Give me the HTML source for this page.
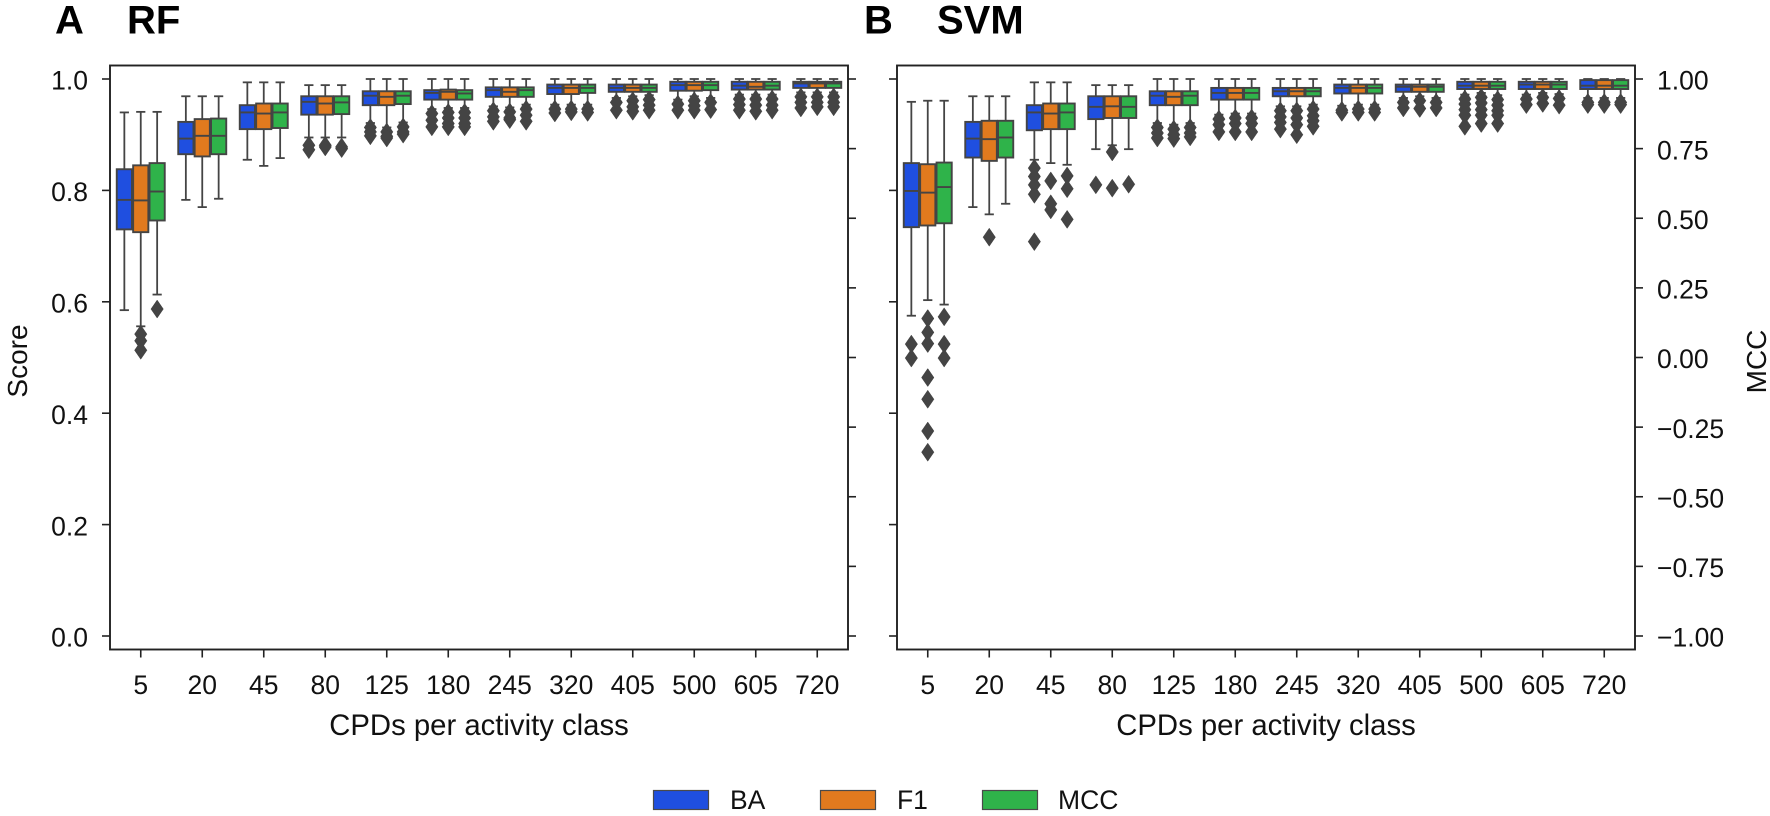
<!DOCTYPE html>
<html lang="en">
<head>
<meta charset="utf-8">
<title>RF and SVM score distributions</title>
<style>
html,body{margin:0;padding:0;background:#fff;width:1770px;height:816px;overflow:hidden}
svg{display:block}
text{font-family:"Liberation Sans",Arial,sans-serif;fill:#111}
text.panel-heading{fill:#000}
</style>
</head>
<body>
<svg id="chart" width="1770" height="816" viewBox="0 0 1770 816" xmlns="http://www.w3.org/2000/svg">
  <rect width="1770" height="816" fill="#fff"/>
  <text class="panel-heading" x="55" y="33.5" font-size="40" font-weight="700">A</text>
  <text class="panel-heading" x="127" y="33.5" font-size="40" font-weight="700">RF</text>
  <text class="panel-heading" x="864" y="33.5" font-size="40" font-weight="700">B</text>
  <text class="panel-heading" x="937" y="33.5" font-size="40" font-weight="700">SVM</text>
  <text transform="translate(27,361) rotate(-90)" text-anchor="middle" font-size="28">Score</text>
  <text transform="translate(1766,361.5) rotate(-90)" text-anchor="middle" font-size="28">MCC</text>
  <text x="479" y="735" text-anchor="middle" font-size="29.3">CPDs per activity class</text>
  <text x="1266" y="735" text-anchor="middle" font-size="29.3">CPDs per activity class</text>
  <g>
    <rect x="653.5" y="790.5" width="55" height="19" fill="#1f4fe0" stroke="#4a4a4a" stroke-width="1.2"/>
    <text x="730" y="809" font-size="26.5">BA</text>
    <rect x="820.5" y="790.5" width="55" height="19" fill="#e17a1e" stroke="#4a4a4a" stroke-width="1.2"/>
    <text x="897" y="809" font-size="26.5">F1</text>
    <rect x="982.5" y="790.5" width="55" height="19" fill="#2fb34a" stroke="#4a4a4a" stroke-width="1.2"/>
    <text x="1058" y="809" font-size="26.5">MCC</text>
  </g>
</svg>
<script>
const categories = ["5","20","45","80","125","180","245","320","405","500","605","720"];
const scoreTicks = [0,0.2,0.4,0.6,0.8,1];
const scoreTickLabels = ["0.0","0.2","0.4","0.6","0.8","1.0"];
const mccTicks = [-1,-0.75,-0.5,-0.25,0,0.25,0.5,0.75,1];
const mccTickLabels = ["\u22121.00","\u22120.75","\u22120.50","\u22120.25","0.00","0.25","0.50","0.75","1.00"];
const metricNames = ["BA","F1","MCC"];
const metricColors = ["#1f4fe0","#e17a1e","#2fb34a"];

/* each entry: [whisker low, Q1, median, Q3, whisker high, [outliers]] */
const rfBA = [
[.585,.730,.783,.838,.940,[]],
[.783,.865,.893,.923,.969,[]],
[.855,.910,.940,.953,.994,[]],
[.895,.936,.959,.969,.989,[.881,.873]],
[.921,.953,.970,.978,1,[.913,.905,.898]],
[.946,.963,.975,.980,1,[.938,.926,.914]],
[.951,.968,.980,.985,1,[.943,.932,.924]],
[.954,.973,.984,.990,1,[.946,.939]],
[.966,.977,.984,.990,1,[.958,.944]],
[.963,.979,.989,.995,1,[.955,.944]],
[.972,.981,.988,.995,1,[.964,.954,.944]],
[.976,.984,.992,.995,1,[.968,.958,.948]]
];
const rfF1 = [
[.556,.725,.782,.845,.941,[.542,.53,.513]],
[.770,.861,.898,.928,.969,[]],
[.844,.910,.938,.956,.994,[]],
[.895,.936,.956,.969,.989,[.881,.878]],
[.913,.953,.968,.978,1,[.905,.897,.894]],
[.948,.963,.977,.981,1,[.940,.930,.920,.914]],
[.949,.968,.977,.985,1,[.941,.930,.927]],
[.954,.973,.984,.990,1,[.946,.941]],
[.969,.977,.984,.990,1,[.961,.950,.942]],
[.969,.979,.989,.995,1,[.961,.952,.944]],
[.972,.981,.986,.995,1,[.964,.953,.942]],
[.976,.984,.992,.995,1,[.968,.958,.950]]
];
const rfMCC = [
[.613,.746,.798,.849,.941,[.587]],
[.785,.865,.898,.929,.969,[]],
[.858,.912,.940,.956,.994,[]],
[.895,.937,.958,.969,.989,[.878,.875]],
[.922,.955,.970,.978,1,[.914,.905,.901]],
[.948,.963,.974,.980,1,[.940,.930,.920,.914]],
[.954,.968,.980,.985,1,[.946,.935,.924]],
[.954,.975,.984,.990,1,[.946,.940]],
[.971,.977,.984,.990,1,[.963,.953,.944]],
[.966,.980,.989,.995,1,[.958,.945]],
[.972,.981,.988,.995,1,[.964,.953,.944]],
[.976,.984,.992,.995,1,[.968,.958,.950]]
];
const svmBA = [
[.575,.734,.799,.849,.959,[.524,.499]],
[.770,.859,.893,.923,.969,[]],
[.855,.908,.940,.953,.994,[.840,.825,.810,.793,.708]],
[.874,.928,.950,.969,.989,[.810]],
[.921,.953,.970,.978,1,[.913,.903,.894]],
[.936,.963,.975,.984,1,[.928,.918,.905]],
[.951,.969,.978,.984,1,[.943,.932,.922,.910]],
[.952,.974,.984,.990,1,[.944,.940]],
[.966,.977,.986,.990,1,[.958,.948]],
[.972,.982,.988,.995,1,[.964,.955,.945,.935,.915]],
[.972,.982,.990,.995,1,[.964,.954]],
[.966,.982,.988,.998,1,[.958,.954]]
];
const svmF1 = [
[.603,.737,.796,.847,.961,[.570,.545,.525,.464,.425,.368,.330]],
[.757,.853,.892,.925,.969,[.716]],
[.849,.910,.938,.956,.994,[.817,.776,.765]],
[.881,.930,.951,.969,.989,[.869,.804]],
[.918,.953,.968,.978,1,[.910,.900,.893]],
[.938,.963,.975,.984,1,[.930,.920,.905]],
[.951,.969,.978,.984,1,[.943,.930,.918,.900]],
[.954,.974,.984,.990,1,[.946,.940]],
[.969,.977,.986,.990,1,[.961,.947]],
[.975,.982,.988,.995,1,[.967,.957,.945,.935,.920]],
[.975,.982,.990,.995,1,[.967,.956]],
[.966,.982,.988,.998,1,[.958,.954]]
];
const svmMCC = [
[.595,.741,.806,.850,.961,[.573,.524,.499]],
[.776,.859,.895,.925,.969,[]],
[.846,.910,.940,.956,.994,[.826,.803,.748]],
[.874,.930,.950,.969,.989,[.811]],
[.921,.953,.970,.978,1,[.913,.903,.896]],
[.938,.963,.975,.984,1,[.930,.920,.905]],
[.954,.969,.978,.984,1,[.946,.934,.925,.915]],
[.954,.974,.984,.990,1,[.946,.940]],
[.966,.977,.986,.990,1,[.958,.948]],
[.971,.982,.988,.995,1,[.963,.953,.943,.935,.920]],
[.973,.982,.990,.995,1,[.965,.953]],
[.966,.982,.988,.998,1,[.958,.954]]
];

const SVGNS = "http://www.w3.org/2000/svg";
const svg = document.getElementById("chart");
const INK = "#444444";
const SPINE = "#222222";
const plotTop = 65.5, plotBottom = 649.5, plotWidth = 738;
const panels = [
  {key:"rf", left:110, series:[rfBA,rfF1,rfMCC]},
  {key:"svm", left:897, series:[svmBA,svmF1,svmMCC]}
];

function yScore(v){ return 636 - 557 * v; }
function yMcc(v){ return 357.5 - 278.5 * v; }
function xCategory(panel, i){ return panel.left + plotWidth / categories.length * (i + 0.5); }
function xMetric(panel, i, m){ return xCategory(panel, i) + (m - 1) * 16.4; }

function make(tag, attrs, parent){
  const el = document.createElementNS(SVGNS, tag);
  for (const k in attrs) el.setAttribute(k, attrs[k]);
  parent.appendChild(el);
  return el;
}
function line(x1, y1, x2, y2, color, width, parent){
  return make("line", {x1:x1, y1:y1, x2:x2, y2:y2, stroke:color, "stroke-width":width}, parent);
}

panels.forEach(function(panel){
  const g = make("g", {}, svg);
  
  
  const right = panel.left + plotWidth;

  panel.series.forEach(function(series, m){
    series.forEach(function(d, i){
      const box = make("g", {}, g);
      
      
      const cx = xMetric(panel, i, m);
      const halfBox = 7.6, halfCap = 4.6;
      line(cx, yScore(d[4]), cx, yScore(d[3]), INK, 1.8, box);
      line(cx, yScore(d[1]), cx, yScore(d[0]), INK, 1.8, box);
      line(cx - halfCap, yScore(d[4]), cx + halfCap, yScore(d[4]), INK, 1.8, box);
      line(cx - halfCap, yScore(d[0]), cx + halfCap, yScore(d[0]), INK, 1.8, box);
      make("rect", {x:cx - halfBox, y:yScore(d[3]), width:halfBox * 2, height:yScore(d[1]) - yScore(d[3]),
        fill:metricColors[m], stroke:INK, "stroke-width":1.9}, box);
      line(cx - halfBox, yScore(d[2]), cx + halfBox, yScore(d[2]), INK, 1.9, box);
      d[5].forEach(function(v){
        const fy = yScore(v);
        const flier = make("polygon", {points:[cx,fy-9, cx+6.2,fy, cx,fy+9, cx-6.2,fy].join(" "), fill:INK, stroke:INK, "stroke-width":0.5}, box);
        
        
      });
    });
  });

  const frame = make("rect", {x:panel.left, y:plotTop, width:plotWidth, height:plotBottom - plotTop,
    fill:"none", stroke:SPINE, "stroke-width":1.9}, g);
  
  

  categories.forEach(function(label, i){
    const tx = xCategory(panel, i);
    const tick = line(tx, plotBottom, tx, plotBottom + 8, SPINE, 1.6, g);
    
    
    const t = make("text", {x:tx, y:694, "text-anchor":"middle", "font-size":26.5}, g);
    t.textContent = label;
    
    
  });

  scoreTicks.forEach(function(v, i){
    const ty = yScore(v);
    const tick = line(panel.left - 8, ty, panel.left, ty, SPINE, 1.6, g);
    
    
    if (panel.key === "rf") {
      const t = make("text", {x:panel.left - 22, y:ty + 10.7, "text-anchor":"end", "font-size":26.5}, g);
      t.textContent = scoreTickLabels[i];
      
      
    }
  });

  mccTicks.forEach(function(v, i){
    const ty = yMcc(v);
    const tick = line(right, ty, right + 8, ty, SPINE, 1.6, g);
    
    
    if (panel.key === "svm") {
      const t = make("text", {x:right + 22, y:ty + 10.7, "font-size":26.5}, g);
      t.textContent = mccTickLabels[i];
      
      
    }
  });
});
</script>
</body>
</html>
